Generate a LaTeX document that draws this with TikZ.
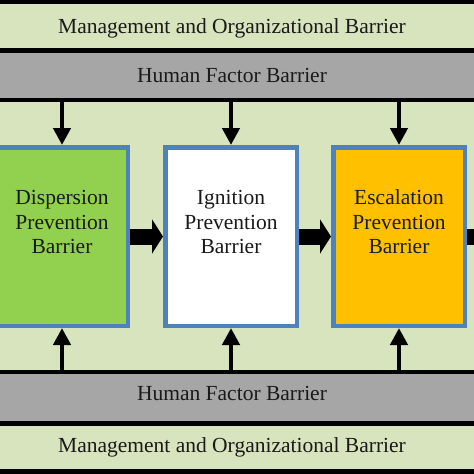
\documentclass[tikz,border=0pt]{standalone}
\usepackage{fontspec}
\setmainfont{Liberation Serif}
\usetikzlibrary{arrows.meta}
\definecolor{bglight}{HTML}{D7E4BD}
\definecolor{bandgray}{HTML}{A6A6A6}
\definecolor{dispgreen}{HTML}{92D050}
\definecolor{escorange}{HTML}{FFC000}
\definecolor{boxblue}{HTML}{4F81BD}
\definecolor{txt}{HTML}{1A1A1A}
\tikzset{
  band/.style={draw=black, line width=4.5pt, minimum width=520pt, inner sep=0pt},
  bandtext/.style={font=\fontsize{21.5}{24.5}\selectfont, text=txt, anchor=base, inner sep=0pt},
  barrierbox/.style={draw=boxblue, line width=4.5pt, minimum width=131.5pt, minimum height=178.5pt, inner sep=0pt},
  boxtext/.style={font=\fontsize{21.5}{24.5}\selectfont, text=txt, align=center, inner sep=0pt},
  varrow/.style={draw=black, line width=4.5pt, -{Triangle[length=17pt,width=17pt]}},
  harrow/.style={draw=black, line width=16pt, -{Triangle[length=11pt,width=34pt]}}
}
\begin{document}
\begin{tikzpicture}[x=1pt,y=-1pt]
\useasboundingbox (0,0) rectangle (474,474);
\clip (0,0) rectangle (474,474);
\fill[bglight] (0,0) rectangle (474,474);
% bands
\node[band, fill=bglight, minimum height=49pt] (mtop) at (237,26) {};
\node[band, fill=bandgray, minimum height=49.5pt] (htop) at (237,75.25) {};
\node[band, fill=bandgray, minimum height=51.5pt] (hbot) at (237,397.75) {};
\node[band, fill=bglight, minimum height=48pt] (mbot) at (237,447.5) {};
\node[bandtext] (mtoptxt) at (232,33) {Management and Organizational Barrier};
\node[bandtext] (htoptxt) at (232,82) {Human Factor Barrier};
\node[bandtext] (hbottxt) at (232,400.5) {Human Factor Barrier};
\node[bandtext] (mbottxt) at (232,452) {Management and Organizational Barrier};
% boxes
\node[barrierbox, fill=dispgreen] (d) at (62,236.5) {};
\node[barrierbox, fill=white] (i) at (231,236.5) {};
\node[barrierbox, fill=escorange] (e) at (399,236.5) {};
\node[boxtext] (dt) at ([yshift=14.5pt]d.center) {Dispersion\\Prevention\\Barrier};
\node[boxtext] (it) at ([yshift=14.5pt]i.center) {Ignition\\Prevention\\Barrier};
\node[boxtext] (et) at ([yshift=14.5pt]e.center) {Escalation\\Prevention\\Barrier};
% vertical arrows
\foreach \b in {d,i,e}{
  \draw[varrow] (\b.north |- htop.south) -- (\b.north);
  \draw[varrow] (\b.south |- hbot.north) -- (\b.south);
}
% horizontal arrows
\coordinate (offright) at (510,236.5);
\draw[harrow] (d.east) -- (i.west);
\draw[harrow] (i.east) -- (e.west);
\draw[harrow] (e.east) -- (offright);
\end{tikzpicture}
\end{document}
